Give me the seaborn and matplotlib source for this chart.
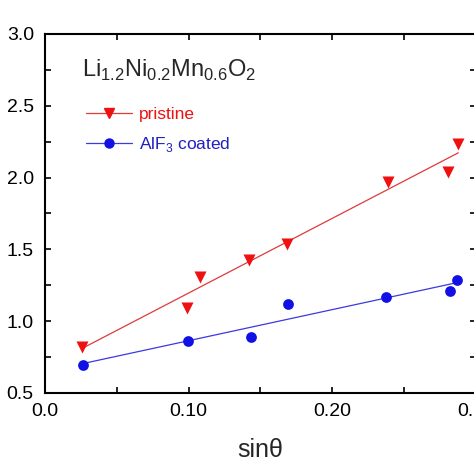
import numpy as np
import pandas as pd
import seaborn as sns
import matplotlib.pyplot as plt
from matplotlib.lines import Line2D
from matplotlib.ticker import MultipleLocator

# values
sin_pristine = [0.0255, 0.0988, 0.1076, 0.1419, 0.1683, 0.2389, 0.2808, 0.2877]
val_pristine = [0.822, 1.090, 1.310, 1.426, 1.538, 1.971, 2.037, 2.234]
sin_coated = [0.0266, 0.0995, 0.1435, 0.1692, 0.2377, 0.2822, 0.2866]
val_coated = [0.697, 0.862, 0.890, 1.118, 1.166, 1.210, 1.287]
xtick_vals = [0.0, 0.1, 0.2, 0.3]
xtick_labels = ['0.0', '0.10', '0.20', '0.30']
ytick_vals = [0.5, 1.0, 1.5, 2.0, 2.5, 3.0]

sns.set_style('ticks')
plt.rcParams['font.family'] = ['Liberation Sans', 'DejaVu Sans']
plt.rcParams['mathtext.fontset'] = 'custom'
plt.rcParams['mathtext.rm'] = 'Liberation Sans'

df_p = pd.DataFrame({'x': sin_pristine, 'y': val_pristine})
df_c = pd.DataFrame({'x': sin_coated, 'y': val_coated})

red = '#ee1111'
blue = '#1111e6'

fig = plt.figure(figsize=(4.74, 4.74), dpi=100)
ax = fig.add_axes([0.0949, 0.1709, 0.9093, 0.7574])

# linear fits
sns.regplot(data=df_p, x='x', y='y', ax=ax, scatter=False, ci=None, truncate=True,
            line_kws={'color': '#e03a3a', 'lw': 0.9})
sns.regplot(data=df_c, x='x', y='y', ax=ax, scatter=False, ci=None, truncate=True,
            line_kws={'color': '#3a3ae0', 'lw': 0.9})

# data points
sns.scatterplot(data=df_p, x='x', y='y', ax=ax, marker='v', s=75, color=red,
                edgecolor=red, linewidth=0, zorder=3)
sns.scatterplot(data=df_c, x='x', y='y', ax=ax, marker='o', s=60, color=blue,
                edgecolor=blue, linewidth=0, zorder=3)

ax.set_xlim(0, 0.3)
ax.set_ylim(0.5, 3.0)
ax.set_xticks(xtick_vals)
ax.set_xticklabels(xtick_labels)
ax.set_yticks(ytick_vals)
ax.xaxis.set_minor_locator(MultipleLocator(0.05))
ax.yaxis.set_minor_locator(MultipleLocator(0.25))
ax.tick_params(which='both', direction='in', length=4.5, width=1.2,
               top=True, right=True, colors='black')
ax.tick_params(axis='x', labelsize=14, pad=7)
ax.tick_params(axis='y', labelsize=14, pad=8)
for s in ax.spines.values():
    s.set_linewidth(1.5)
    s.set_color('black')

ax.set_xlabel('sinθ', fontsize=18, labelpad=13)
ax.set_ylabel('')

ax.text(0.085, 0.935, r'Li$_{1.2}$Ni$_{0.2}$Mn$_{0.6}$O$_{2}$', transform=ax.transAxes,
        fontsize=17, va='top', ha='left')

handles = [
    Line2D([], [], color='#e03a3a', lw=0.9, marker='v', markersize=7,
           markerfacecolor=red, markeredgecolor=red, label='pristine'),
    Line2D([], [], color='#3a3ae0', lw=0.9, marker='o', markersize=6.5,
           markerfacecolor=blue, markeredgecolor=blue, label=r'AlF$_3$ coated'),
]
leg = ax.legend(handles=handles, loc='upper left', bbox_to_anchor=(0.06, 0.84),
                frameon=False, fontsize=12.5, handlelength=2.6, handletextpad=0.4,
                labelspacing=0.75)
leg.get_texts()[0].set_color(red)
leg.get_texts()[1].set_color('#2020c0')

fig.savefig('out.png', dpi=100)
